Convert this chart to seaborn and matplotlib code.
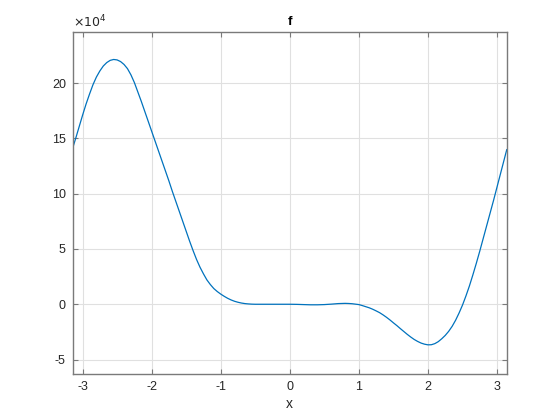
import matplotlib
matplotlib.use("Agg")
import matplotlib.pyplot as plt
import seaborn as sns
import pandas as pd

# =====================================================
# DATA (y in units of 1e4)
# =====================================================
x_vals = [-3.1416, -3.1, -3.05, -3.0, -2.95, -2.9, -2.85, -2.8, -2.75, -2.7,
          -2.65, -2.6, -2.55, -2.5, -2.45, -2.4, -2.35, -2.3, -2.25, -2.2,
          -2.15, -2.1, -2.05, -2.0, -1.95, -1.9, -1.85, -1.8, -1.75, -1.7,
          -1.65, -1.6, -1.55, -1.5, -1.45, -1.4, -1.35, -1.3, -1.25, -1.2,
          -1.15, -1.1, -1.05, -1.0, -0.95, -0.9, -0.85, -0.8, -0.75, -0.7,
          -0.65, -0.6, -0.55, -0.5, -0.4, -0.3, -0.2, -0.1, 0.0, 0.1,
          0.2, 0.3, 0.4, 0.5, 0.6, 0.7, 0.8, 0.85, 0.9, 0.95,
          1.0, 1.05, 1.1, 1.15, 1.2, 1.25, 1.3, 1.35, 1.4, 1.45,
          1.5, 1.55, 1.6, 1.65, 1.7, 1.75, 1.8, 1.85, 1.9, 1.95,
          2.0, 2.05, 2.1, 2.15, 2.2, 2.25, 2.3, 2.35, 2.4, 2.45,
          2.5, 2.55, 2.6, 2.65, 2.7, 2.75, 2.8, 2.85, 2.9, 2.95,
          3.0, 3.05, 3.1, 3.1416]
f_e4 = [14.15, 15.0, 16.05, 17.1, 18.1, 19.0, 19.85, 20.55, 21.1, 21.55,
        21.86, 22.06, 22.14, 22.1, 21.95, 21.69, 21.31, 20.75, 20.05, 19.2,
        18.35, 17.45, 16.55, 15.65, 14.75, 13.85, 12.95, 12.05, 11.15, 10.2,
        9.3, 8.4, 7.5, 6.6, 5.7, 4.85, 4.05, 3.35, 2.75, 2.2,
        1.78, 1.42, 1.15, 0.92, 0.72, 0.54, 0.39, 0.27, 0.18, 0.11,
        0.06, 0.03, 0.01, 0.0, 0.0, 0.0, 0.0, 0.0, 0.0, -0.01,
        -0.03, -0.05, -0.05, -0.03, 0.01, 0.06, 0.08, 0.07, 0.05, 0.01,
        -0.03, -0.12, -0.22, -0.32, -0.45, -0.6, -0.76, -0.96, -1.18, -1.42,
        -1.68, -1.93, -2.2, -2.46, -2.72, -2.96, -3.18, -3.36, -3.51, -3.61,
        -3.67, -3.66, -3.56, -3.38, -3.12, -2.82, -2.45, -2.0, -1.45, -0.8,
        -0.08, 0.75, 1.65, 2.65, 3.7, 4.8, 5.95, 7.1, 8.25, 9.4,
        10.6, 11.8, 13.0, 14.0]

x_ticks = [-3, -2, -1, 0, 1, 2, 3]
y_ticks = [-5, 0, 5, 10, 15, 20]
x_range = [-3.1416, 3.1416]
y_range = [-6.29, 24.67]

df = pd.DataFrame({"x": x_vals, "f": f_e4})

sns.set_theme(style="white")
plt.rcParams["font.family"] = ["Liberation Sans", "DejaVu Sans"]

fig = plt.figure(figsize=(5.6, 4.2), dpi=100)
ax = fig.add_axes([0.13, 0.11, 0.775, 0.815])

sns.lineplot(data=df, x="x", y="f", ax=ax, color="#0072BD", linewidth=0.9, sort=False)

ax.set_xlim(x_range)
ax.set_ylim(y_range)
ax.set_xticks(x_ticks)
ax.set_yticks(y_ticks)
ax.set_xticklabels([str(t) for t in x_ticks])
ax.set_yticklabels([str(t) for t in y_ticks])

ax.grid(True, color="#e0e0e0", linewidth=0.8)
ax.set_axisbelow(True)
ax.tick_params(direction="in", length=3.5, width=0.8, colors="#7a7a7a",
               labelcolor="#262626", labelsize=9, top=True, right=True,
               bottom=True, left=True, pad=5)
for s in ax.spines.values():
    s.set_color("#7a7a7a")
    s.set_linewidth(1.0)

ax.set_title("f", fontsize=9.5, fontweight="bold", color="#000000", pad=5)
ax.set_xlabel("x", fontsize=10, color="#262626", labelpad=3)
ax.set_ylabel("")

ax.text(0.0, 1.004, r"$\times10^{4}$", transform=ax.transAxes, ha="left",
        va="bottom", fontsize=9, color="#262626")

fig.savefig("out.png", dpi=100, facecolor="white")
